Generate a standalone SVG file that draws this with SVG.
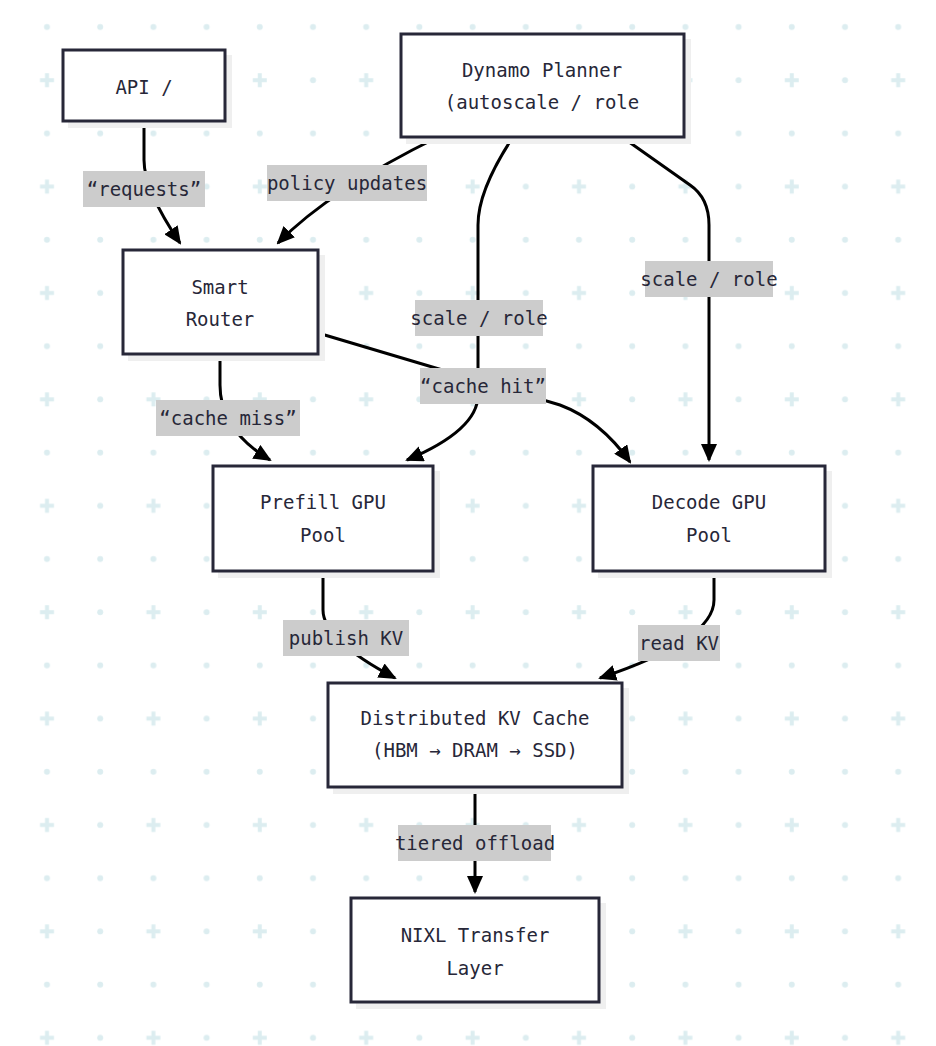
<svg xmlns="http://www.w3.org/2000/svg" width="936" height="1046" viewBox="0 0 936 1046">
<style>
.n rect.b{fill:#fff;stroke:#272738;stroke-width:3}
.n rect.s{fill:#efefef}
text{font-family:"DejaVu Sans Mono","Liberation Mono",monospace;font-size:19px;fill:#272738;text-anchor:middle;dominant-baseline:central}
.e path{fill:none;stroke:#000;stroke-width:3}
.l rect{fill:#cccccc}
</style>
<defs>
<marker id="a" viewBox="0 0 18 16" refX="16" refY="8" markerWidth="18" markerHeight="16" markerUnits="userSpaceOnUse" orient="auto"><path d="M0,0L18,8L0,16z" fill="#000"/></marker>
<pattern id="g" x="20.4" y="0.4" width="106.4" height="106.4" patternUnits="userSpaceOnUse">
<g fill="#dcedf0"><circle cx="26.6" cy="26.6" r="3"/><circle cx="79.8" cy="26.6" r="3"/><circle cx="79.8" cy="79.8" r="3"/>
<rect x="19.6" y="77.8" width="14" height="4"/><rect x="24.6" y="72.8" width="4" height="14"/></g>
</pattern>
</defs>
<rect width="936" height="1046" fill="#fff"/>
<rect width="936" height="1046" fill="url(#g)"/>
<g id="edges" class="e">
<path d="M144,121 V160 Q144,190 180,243" marker-end="url(#a)"/>
<path d="M438,137 Q330,190 278,243" marker-end="url(#a)"/>
<path d="M513,137 Q478,190 478,225 V395 Q478,430 407,460" marker-end="url(#a)"/>
<path d="M622,137 L690,185 Q709,198 709,225 V460" marker-end="url(#a)"/>
<path d="M318,333 L560,405 Q600,420 630,462" marker-end="url(#a)"/>
<path d="M220,354 V385 Q220,430 270,460" marker-end="url(#a)"/>
<path d="M323,571 V610 Q323,640 395,678" marker-end="url(#a)"/>
<path d="M714,571 V600 Q714,640 600,678" marker-end="url(#a)"/>
<path d="M475,787 V892" marker-end="url(#a)"/>
</g>
<g id="labels" class="l">
<rect x="83" y="171" width="122" height="36"/><text x="144" y="189">“requests”</text>
<rect x="267" y="165" width="160" height="36"/><text x="347" y="183">policy updates</text>
<rect x="415" y="300" width="128" height="36"/><text x="479" y="318">scale / role</text>
<rect x="645" y="261" width="128" height="36"/><text x="709" y="279">scale / role</text>
<rect x="420" y="368" width="126" height="36"/><text x="483" y="386">“cache hit”</text>
<rect x="156" y="400" width="144" height="36"/><text x="228" y="418">“cache miss”</text>
<rect x="283" y="620" width="126" height="36"/><text x="346" y="638">publish KV</text>
<rect x="638" y="625" width="82" height="36"/><text x="679" y="643">read KV</text>
<rect x="398" y="825" width="153" height="36"/><text x="475" y="843">tiered offload</text>
</g>
<g id="api" class="n"><rect class="s" x="68" y="55" width="164" height="73"/><rect class="b" x="63" y="50" width="162" height="71"/><text x="144" y="87">API /</text></g>
<g id="planner" class="n"><rect class="s" x="406" y="39" width="285" height="105"/><rect class="b" x="401" y="34" width="283" height="103"/><text x="542" y="70">Dynamo Planner</text><text x="542" y="102">(autoscale / role</text></g>
<g id="router" class="n"><rect class="s" x="128" y="255" width="197" height="106"/><rect class="b" x="123" y="250" width="195" height="104"/><text x="220" y="287">Smart</text><text x="220" y="319">Router</text></g>
<g id="prefill" class="n"><rect class="s" x="218" y="471" width="222" height="107"/><rect class="b" x="213" y="466" width="220" height="105"/><text x="323" y="502">Prefill GPU</text><text x="323" y="535">Pool</text></g>
<g id="decode" class="n"><rect class="s" x="598" y="471" width="234" height="107"/><rect class="b" x="593" y="466" width="232" height="105"/><text x="709" y="502">Decode GPU</text><text x="709" y="535">Pool</text></g>
<g id="kv" class="n"><rect class="s" x="333" y="688" width="296" height="106"/><rect class="b" x="328" y="683" width="294" height="104"/><text x="475" y="718">Distributed KV Cache</text><text x="475" y="750">(HBM → DRAM → SSD)</text></g>
<g id="nixl" class="n"><rect class="s" x="356" y="903" width="250" height="106"/><rect class="b" x="351" y="898" width="248" height="104"/><text x="475" y="935">NIXL Transfer</text><text x="475" y="968">Layer</text></g>
</svg>
